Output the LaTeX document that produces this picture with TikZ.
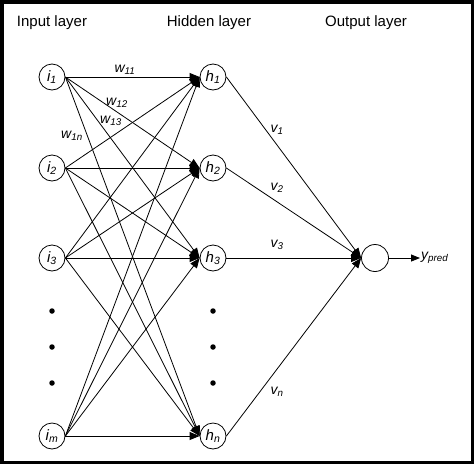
\documentclass[tikz,border=0pt]{standalone}
\usepackage{fontspec}
\setmainfont{Liberation Sans}
\usetikzlibrary{arrows.meta}
\tikzset{
  neuron/.style={circle,draw,line width=0.8pt,minimum size=26pt,inner sep=0pt,font=\fontsize{15}{15}\selectfont\itshape},
  outneuron/.style={circle,draw,line width=0.8pt,minimum size=27pt,inner sep=0pt},
  conn/.style={line width=0.8pt,-{Triangle[length=10pt,width=8pt]}},
  dotmark/.style={circle,fill,inner sep=0pt,minimum size=5.5pt},
  wlabel/.style={font=\fontsize{14}{14}\selectfont\itshape,inner sep=0pt},
  heading/.style={font=\fontsize{15}{15}\selectfont,inner sep=0pt}
}
\begin{document}
\begin{tikzpicture}[x=1pt,y=-1pt]
\useasboundingbox (0,0) rectangle (474,464);
\draw[line width=3.5pt] (1.75,1.75) rectangle (472.25,462.25);
\node[heading] (tin) at (52,23) {Input layer};
\node[heading] (thid) at (209,23) {Hidden layer};
\node[heading] (tout) at (366,23) {Output layer};
\foreach \n/\y/\s in {i1/77/1,i2/168/2,i3/258/3,im/436/m}
  \node[neuron] (\n) at (52,\y) {i\textsubscript{\s}};
\foreach \n/\y/\s in {h1/77/1,h2/168/2,h3/258/3,hn/436/n}
  \node[neuron] (\n) at (213,\y) {h\textsubscript{\s}};
\node[outneuron] (o) at (375,258) {};
\foreach \y [count=\k] in {311,347,383} {
  \node[dotmark] (di\k) at (52,\y) {};
  \node[dotmark] (dh\k) at (213,\y) {};
}
\foreach \a in {i1,i2,i3,im}
  \foreach \b in {h1,h2,h3,hn}
    \draw[conn] (\a.east) -- (\b.west);
\foreach \b in {h1,h2,h3,hn}
  \draw[conn] (\b.east) -- (o.west);
\coordinate (yend) at (420,258);
\draw[line width=0.8pt,-{Triangle[length=9pt,width=7pt]}] (o.east) -- (yend);
\node[wlabel,anchor=west] (yp) at (421,258) {y\textsubscript{pred}};
\node[wlabel] (w11) at (125,70) {w\textsubscript{11}};
\node[wlabel] (w12) at (117,103) {w\textsubscript{12}};
\node[wlabel] (w13) at (111,121) {w\textsubscript{13}};
\node[wlabel] (w1n) at (72,136) {w\textsubscript{1n}};
\node[wlabel] (v1) at (277,130) {v\textsubscript{1}};
\node[wlabel] (v2) at (277,188) {v\textsubscript{2}};
\node[wlabel] (v3) at (277,245) {v\textsubscript{3}};
\node[wlabel] (vn) at (277,392) {v\textsubscript{n}};
\end{tikzpicture}
\end{document}
